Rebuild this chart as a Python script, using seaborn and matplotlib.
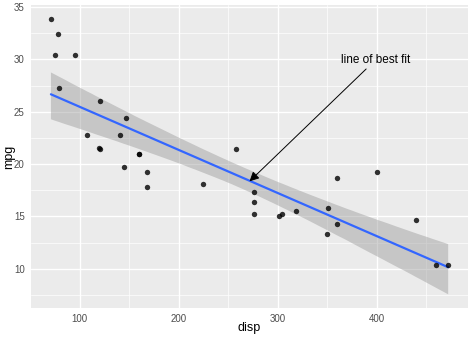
import matplotlib
matplotlib.use("Agg")
import matplotlib.pyplot as plt
from matplotlib.collections import PolyCollection
from matplotlib.ticker import MultipleLocator
import seaborn as sns
import pandas as pd
import numpy as np

disp = [160, 160, 108, 258, 360, 225, 360, 146.7, 140.8, 167.6, 167.6, 275.8,
        275.8, 275.8, 472, 460, 440, 78.7, 75.7, 71.1, 120.1, 318, 304, 350,
        400, 79, 120.3, 95.1, 351, 145, 301, 121]
mpg = [21.0, 21.0, 22.8, 21.4, 18.7, 18.1, 14.3, 24.4, 22.8, 19.2, 17.8, 16.4,
       17.3, 15.2, 10.4, 10.4, 14.7, 32.4, 30.4, 33.9, 21.5, 15.5, 15.2, 13.3,
       19.2, 27.3, 26.0, 30.4, 15.8, 19.7, 15.0, 21.4]
annot_text = "line of best fit"
annot_xy = (271.5, 18.35)
annot_text_xy = (364, 29.4)

df = pd.DataFrame({"disp": disp, "mpg": mpg})

sns.set_style("white")
plt.rcParams['font.family'] = ['Liberation Sans', 'DejaVu Sans']

fig = plt.figure(figsize=(4.74, 3.38), dpi=100)
ax = fig.add_axes([31/474, 30/338, 437/474, 303/338])
ax.set_facecolor("#EBEBEB")

sns.regplot(data=df, x="disp", y="mpg", ax=ax, ci=95, n_boot=10000, seed=7,
            scatter_kws=dict(s=15, color="black", linewidths=0, zorder=4),
            line_kws=dict(color="#3366FF", lw=1.6, zorder=3), truncate=True)
for c in ax.collections:
    if isinstance(c, PolyCollection):
        c.set_facecolor("#999999")
        c.set_alpha(0.45)
        c.set_edgecolor("none")
        c.set_zorder(2)

ax.set_xlim(51, 492)
ax.set_ylim(6.25, 35.2)
ax.xaxis.set_major_locator(MultipleLocator(100))
ax.xaxis.set_minor_locator(MultipleLocator(50))
ax.yaxis.set_major_locator(MultipleLocator(5))
ax.yaxis.set_minor_locator(MultipleLocator(2.5))
ax.grid(which="major", color="white", lw=1.0, zorder=0)
ax.grid(which="minor", color="white", lw=0.5, zorder=0)
ax.set_axisbelow(True)
for s in ax.spines.values():
    s.set_visible(False)
ax.tick_params(which="major", length=2.5, width=0.8, color="#333333",
               labelsize=7, labelcolor="#4D4D4D", pad=2)
ax.tick_params(which="minor", length=0)
ax.set_xlabel("disp", fontsize=9, color="black")
ax.set_ylabel("mpg", fontsize=9, color="black")
ax.xaxis.set_label_coords(0.5, -0.045)
ax.yaxis.set_label_coords(-0.036, 0.5)

ax.annotate(annot_text, xy=annot_xy, xytext=annot_text_xy,
            fontsize=8.5, color="black", ha="left", va="bottom",
            arrowprops=dict(arrowstyle="-|>", color="black", lw=0.7,
                            mutation_scale=14, shrinkA=0, shrinkB=0),
            zorder=5)

fig.savefig("out.png", dpi=100)
